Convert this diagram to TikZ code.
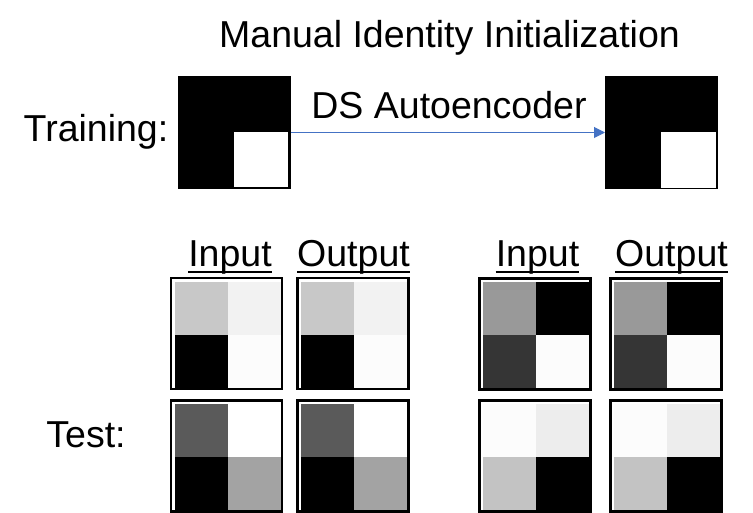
\documentclass[tikz,border=0pt]{standalone}
\usepackage{fontspec}
\setmainfont{Liberation Sans}
\usetikzlibrary{arrows.meta,calc}
\definecolor{arrblue}{RGB}{68,114,196}
\definecolor{gA}{RGB}{200,200,200}
\definecolor{gB}{RGB}{242,242,242}
\definecolor{gC}{RGB}{252,252,252}
\definecolor{gD}{RGB}{90,90,90}
\definecolor{gE}{RGB}{163,163,163}
\definecolor{gF}{RGB}{153,153,153}
\definecolor{gG}{RGB}{53,53,53}
\definecolor{gH}{RGB}{237,237,237}
\definecolor{gI}{RGB}{195,195,195}
\newcommand\tgrid[7]{%
  \fill[#3] (#1+5,#2+5) rectangle ++(53,53);
  \fill[#4] (#1+58,#2+5) rectangle ++(53,53);
  \fill[#5] (#1+5,#2+58) rectangle ++(53,53);
  \fill[#6] (#1+58,#2+58) rectangle ++(53,53);
  \node[frame, anchor=north west] (#7) at (#1,#2) {};
}
\begin{document}
\begin{tikzpicture}[x=1pt,y=-1pt,
  lbl/.style={inner sep=0pt, anchor=base, font=\fontsize{37.5}{40}\selectfont},
  frame/.style={draw=black, line width=2.6pt, inner sep=0pt, outer sep=0pt,
    minimum width=111pt, minimum height=111pt, shift={(1.3pt,-1.3pt)}},
  trbox/.style={fill=black, inner sep=0pt, outer sep=0pt, anchor=north west,
    minimum width=112.5pt, minimum height=113pt},
  arr/.style={arrblue, line width=1pt, -{Triangle[length=11pt,width=11pt]}},
  uline/.style={line width=2.5pt}]
\useasboundingbox (0,0) rectangle (753,513);
% titles
\node[lbl] (title) at (449.5,48) {Manual Identity Initialization};
\node[lbl] (train) at (96,142) {Training:};
\node[lbl] (test) at (86,447) {Test:};
% training pair
\node[trbox] (trin) at (178,76) {};
\fill[white] (234,132) rectangle (288,187);
\node[trbox] (trout) at (605,76) {};
\fill[white] (661,132.3) rectangle (716,187.7);
\draw[arr] (trin.east) -- (trout.west);
\node[lbl] (dslabel) at (449,119) {DS Autoencoder};
% column labels
\node[lbl] (in1) at (230,267) {Input};
\node[lbl] (out1) at (353.5,267) {Output};
\node[lbl] (in2) at (537.5,267) {Input};
\node[lbl] (out2) at (671.5,267) {Output};
\foreach \n in {in1,out1,in2,out2}{
  \draw[uline] ($(\n.base west)+(0,5)$) -- ($(\n.base east)+(0,5)$);
}
% test grids
\tgrid{169.7}{276.7}{gA}{gB}{black}{gC}{ta}
\tgrid{296.3}{276.7}{gA}{gB}{black}{gC}{tb}
\tgrid{478}{277}{gF}{black}{gG}{gC}{tc}
\tgrid{609.3}{277}{gF}{black}{gG}{gC}{td}
\tgrid{169.7}{399.3}{gD}{white}{black}{gE}{te}
\tgrid{296.3}{399.3}{gD}{white}{black}{gE}{tf}
\tgrid{478}{399.3}{gC}{gH}{gI}{black}{tg}
\tgrid{609.3}{399.3}{gC}{gH}{gI}{black}{th}
\end{tikzpicture}
\end{document}
